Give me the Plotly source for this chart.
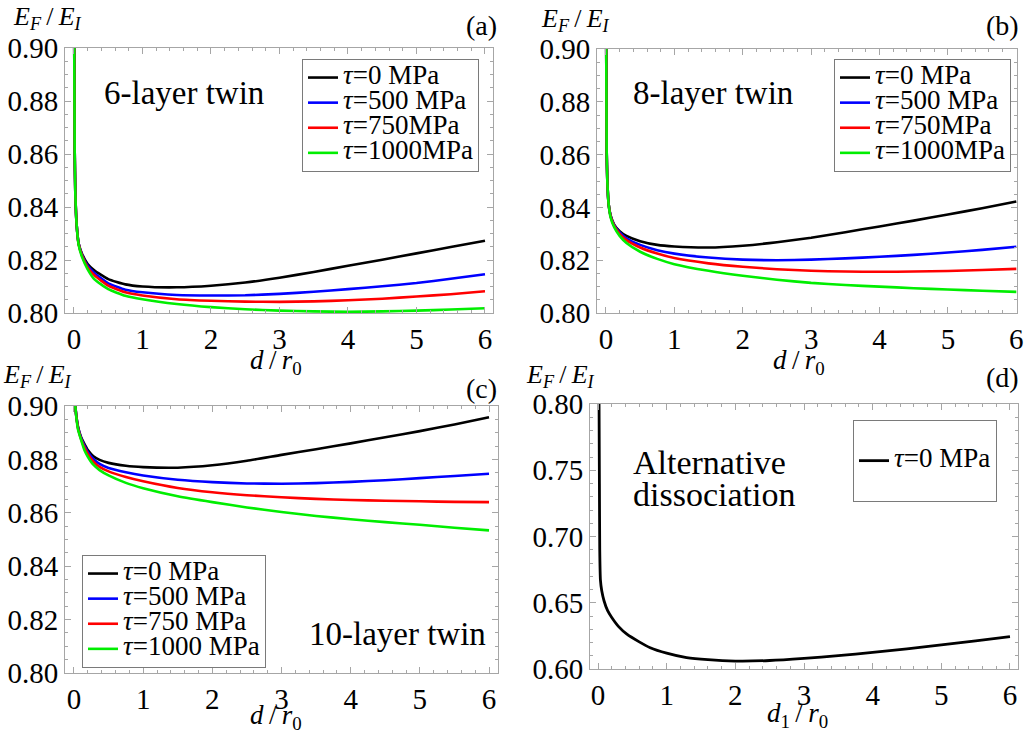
import plotly.graph_objects as go

# ---------------- data ----------------
xa = [0.004, 0.01, 0.02, 0.04, 0.07, 0.12, 0.2, 0.3, 0.5, 0.75, 1, 1.5, 2, 2.5, 3, 3.5, 4, 4.5, 5, 5.5, 6]
a_t0    = [0.900, 0.862, 0.845, 0.833, 0.826, 0.8222, 0.8185, 0.8160, 0.8128, 0.8108, 0.8100, 0.8097, 0.8103, 0.8115, 0.8133, 0.8155, 0.8178, 0.8201, 0.8225, 0.8249, 0.8273]
a_t500  = [0.900, 0.862, 0.845, 0.833, 0.826, 0.8218, 0.8178, 0.8150, 0.8112, 0.8088, 0.8078, 0.8068, 0.8066, 0.8067, 0.8072, 0.8080, 0.8090, 0.8101, 0.8113, 0.8129, 0.8146]
a_t750  = [0.900, 0.862, 0.845, 0.833, 0.8258, 0.8215, 0.8172, 0.8142, 0.8103, 0.8078, 0.8066, 0.8052, 0.8046, 0.8043, 0.8042, 0.8044, 0.8048, 0.8054, 0.8062, 0.8071, 0.8082]
a_t1000 = [0.900, 0.862, 0.845, 0.833, 0.8255, 0.8210, 0.8165, 0.8127, 0.8090, 0.8065, 0.8052, 0.8034, 0.8022, 0.8014, 0.8009, 0.8006, 0.8005, 0.8006, 0.8009, 0.8013, 0.8018]

xb = [0.004, 0.01, 0.02, 0.04, 0.07, 0.12, 0.2, 0.3, 0.5, 0.75, 1, 1.5, 2, 2.5, 3, 3.5, 4, 4.5, 5, 5.5, 6]
b_t0    = [0.900, 0.862, 0.850, 0.841, 0.8368, 0.8335, 0.8310, 0.8292, 0.8272, 0.8258, 0.8252, 0.8248, 0.8255, 0.8268, 0.8285, 0.8306, 0.8328, 0.8350, 0.8373, 0.8397, 0.8422]
b_t500  = [0.900, 0.862, 0.850, 0.841, 0.8366, 0.8333, 0.8305, 0.8283, 0.8258, 0.8238, 0.8225, 0.8210, 0.8202, 0.8200, 0.8202, 0.8207, 0.8213, 0.8220, 0.8229, 0.8239, 0.8251]
b_t750  = [0.900, 0.862, 0.850, 0.841, 0.8364, 0.8330, 0.8300, 0.8276, 0.8248, 0.8225, 0.8208, 0.8188, 0.8175, 0.8166, 0.8160, 0.8157, 0.8156, 0.8157, 0.8159, 0.8163, 0.8167]
b_t1000 = [0.900, 0.862, 0.850, 0.841, 0.8360, 0.8325, 0.8292, 0.8265, 0.8232, 0.8205, 0.8185, 0.8160, 0.8141, 0.8126, 0.8114, 0.8106, 0.8100, 0.8094, 0.8089, 0.8084, 0.8080]

xc = [0.019, 0.035, 0.06, 0.1, 0.15, 0.2, 0.28, 0.37, 0.5, 0.75, 1, 1.5, 2, 2.5, 3, 3.5, 4, 4.5, 5, 5.5, 6]
c_t0    = [0.900, 0.8960, 0.8920, 0.8885, 0.8858, 0.8835, 0.8812, 0.8798, 0.8787, 0.8776, 0.8771, 0.8769, 0.8778, 0.8795, 0.8817, 0.8838, 0.8860, 0.8883, 0.8906, 0.8931, 0.8958]
c_t500  = [0.900, 0.8960, 0.8918, 0.8882, 0.8852, 0.8828, 0.8802, 0.8783, 0.8768, 0.8752, 0.8740, 0.8724, 0.8715, 0.8710, 0.8709, 0.8711, 0.8716, 0.8722, 0.8730, 0.8738, 0.8746]
c_t750  = [0.900, 0.8958, 0.8915, 0.8878, 0.8845, 0.8820, 0.8792, 0.8772, 0.8755, 0.8734, 0.8718, 0.8693, 0.8677, 0.8666, 0.8658, 0.8652, 0.8648, 0.8645, 0.8643, 0.8641, 0.8640]
c_t1000 = [0.900, 0.8955, 0.8910, 0.8875, 0.8835, 0.8810, 0.8780, 0.8760, 0.8740, 0.8712, 0.8692, 0.8662, 0.8640, 0.8620, 0.8603, 0.8588, 0.8576, 0.8565, 0.8555, 0.8544, 0.8534]

xd = [0.015, 0.02, 0.025, 0.035, 0.054, 0.087, 0.14, 0.2, 0.3, 0.42, 0.6, 0.76, 1, 1.29, 1.6, 2, 2.5, 3, 3.5, 4, 4.5, 5, 5.5, 6]
d_t0 = [0.800, 0.740, 0.690, 0.667, 0.659, 0.6515, 0.6440, 0.6389, 0.6320, 0.6263, 0.6205, 0.6161, 0.6120, 0.6086, 0.6070, 0.6060, 0.6064, 0.6080, 0.6101, 0.6125, 0.6152, 0.6182, 0.6213, 0.6245]

names_ab = ["<i>τ</i>=0 MPa", "<i>τ</i>=500 MPa", "<i>τ</i>=750MPa", "<i>τ</i>=1000MPa"]
names_c = ["<i>τ</i>=0 MPa", "<i>τ</i>=500 MPa", "<i>τ</i>=750 MPa", "<i>τ</i>=1000 MPa"]
name_d = "<i>τ</i>=0 MPa"
colors = ["#000000", "#0000ff", "#ff0000", "#00ee00"]

FONT = "Liberation Serif, Times New Roman, serif"
W, H = 1028, 735
LEG_TXT = 27


def big(s):
    return '<span style="font-size:%dpx">%s</span>' % (LEG_TXT, s)


fig = go.Figure()

panels = [
    (xa, [a_t0, a_t500, a_t750, a_t1000], names_ab, "x", "y", "legend"),
    (xb, [b_t0, b_t500, b_t750, b_t1000], names_ab, "x2", "y2", "legend2"),
    (xc, [c_t0, c_t500, c_t750, c_t1000], names_c, "x3", "y3", "legend3"),
]
for xs, series, names, xr, yr, lg in panels:
    for ys, nm, col in zip(series, names, colors):
        fig.add_trace(go.Scatter(x=xs, y=ys, name=big(nm), mode="lines",
                                 line=dict(color=col, width=2.6, shape="spline", smoothing=0.5),
                                 xaxis=xr, yaxis=yr, legend=lg))
fig.add_trace(go.Scatter(x=xd, y=d_t0, name="<br>" + big(name_d) + "<br> ", mode="lines",
                         line=dict(color="#000000", width=2.8, shape="spline", smoothing=0.5),
                         xaxis="x4", yaxis="y4", legend="legend4"))


def px(x):
    return x / W


def py(y):
    return 1 - y / H


GRAY = "#a6a6a6"


def xaxis(dom, rng, anchor):
    return dict(domain=dom, range=rng, anchor=anchor, showline=True, linecolor=GRAY, linewidth=1,
                mirror="ticks", ticks="inside", ticklen=6, tickcolor=GRAY, tickwidth=1,
                tickvals=[0, 1, 2, 3, 4, 5, 6], showgrid=False, zeroline=False,
                tickfont=dict(family=FONT, size=29, color="black"),
                minor=dict(ticks="inside", ticklen=3, dtick=0.2, tick0=0, tickcolor=GRAY, showgrid=False))


def yaxis(dom, rng, anchor, vals, mdt):
    return dict(domain=dom, range=rng, anchor=anchor, showline=True, linecolor=GRAY, linewidth=1,
                mirror="ticks", ticks="inside", ticklen=6, tickcolor=GRAY, tickwidth=1,
                tickvals=vals, ticktext=["%.2f" % v for v in vals], showgrid=False, zeroline=False,
                tickfont=dict(family=FONT, size=29, color="black"),
                minor=dict(ticks="inside", ticklen=3, dtick=mdt, tick0=0, tickcolor=GRAY, showgrid=False))


yv1 = [0.80, 0.82, 0.84, 0.86, 0.88, 0.90]
yv4 = [0.60, 0.65, 0.70, 0.75, 0.80]

fig.update_layout(
    width=W, height=H, margin=dict(l=0, r=0, t=0, b=0, autoexpand=False),
    paper_bgcolor="white", plot_bgcolor="white", showlegend=True,
    xaxis=xaxis([px(65), px(493)], [-0.131, 6.117], "y"),
    yaxis=yaxis([py(313), py(48)], [0.80, 0.90], "x", yv1, 0.005),
    xaxis2=xaxis([px(597), px(1017)], [-0.131, 6.01], "y2"),
    yaxis2=yaxis([py(313), py(49)], [0.80, 0.90], "x2", yv1, 0.005),
    xaxis3=xaxis([px(65), px(498)], [-0.130, 6.13], "y3"),
    yaxis3=yaxis([py(673), py(406)], [0.80, 0.90], "x3", yv1, 0.005),
    xaxis4=xaxis([px(590), px(1018)], [-0.117, 6.117], "y4"),
    yaxis4=yaxis([py(669), py(404)], [0.60, 0.80], "x4", yv4, 0.01),
)


def legend(x, y, fs=17):
    return dict(x=px(x), y=py(y), xanchor="left", yanchor="top", bgcolor="white",
                bordercolor="#7a7a7a", borderwidth=1, font=dict(family=FONT, size=fs, color="black"),
                tracegroupgap=0, itemwidth=30)


fig.update_layout(legend=legend(302, 59), legend2=legend(834, 59),
                  legend3=legend(82, 555), legend4=legend(853, 420, 17))

ann = []


def text(x, y, s, size=28, xanchor="left", yanchor="middle", align="left"):
    ann.append(dict(x=px(x), y=py(y), xref="paper", yref="paper", text=s, showarrow=False,
                    xanchor=xanchor, yanchor=yanchor, align=align, borderpad=0,
                    font=dict(family=FONT, size=size, color="black")))


EFEI = "<i>E<sub>F</sub></i>\u2009/\u2009<i>E<sub>I</sub></i>"
text(12, 18, EFEI, 26)
text(540, 20, EFEI, 26)
text(2, 376, EFEI, 26)
text(525, 376, EFEI, 26)
text(498, 25, "(a)", 28, "right")
text(1020, 25, "(b)", 28, "right")
text(498, 388, "(c)", 28, "right")
text(1020, 378, "(d)", 28, "right")
DR = "<i>d</i>\u2009/\u2009<i>r</i><sub>0</sub>"
text(276, 362, DR, 27, "center")
text(799, 362, DR, 27, "center")
text(276, 717, DR, 27, "center")
text(797, 715, "<i>d</i><sub>1</sub>\u2009/\u2009<i>r</i><sub>0</sub>", 27, "center")
text(103, 93, "6-layer twin", 33)
text(632, 93, "8-layer twin", 33)
text(308, 634, "10-layer twin", 33)
text(632, 462, "Alternative", 34)
text(632, 494, "dissociation", 34)
fig.update_layout(annotations=ann)

fig.write_html("out.html")
